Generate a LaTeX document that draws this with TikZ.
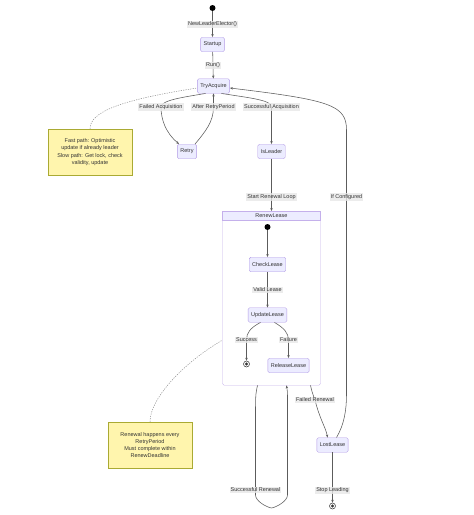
\documentclass[tikz,border=0pt]{standalone}
\usepackage{fontspec}
\setmainfont{Liberation Sans}
\usetikzlibrary{positioning, arrows.meta, calc}
\definecolor{primary}{HTML}{9370DB}
\definecolor{statebg}{HTML}{ECECFF}
\definecolor{linec}{HTML}{333333}
\definecolor{notebg}{HTML}{FFF5AD}
\definecolor{noteline}{HTML}{AAAA33}
\definecolor{lblbg}{HTML}{E8E8E8}
\tikzset{
  fsm state/.style={
    draw=primary!70,
    line width=0.4pt,
    fill=statebg,
    rounded corners=1.5pt,
    minimum height=14.5pt,
    inner xsep=3pt,
    font=\fontsize{5.5}{6.5}\selectfont,
    text=linec
  },
  fsm arrow/.style={
    -{Stealth[length=3pt,width=2.4pt]},
    line width=0.55pt,
    color=linec!80
  },
  edge lbl/.style={
    fill=lblbg, fill opacity=0.8, text opacity=1,
    inner sep=1pt, font=\fontsize{5.5}{6.5}\selectfont, text=linec
  },
  start dot/.style={circle, fill=black, minimum size=6pt, inner sep=0pt},
  stop dot/.style={
    circle, draw=linec, line width=0.5pt, fill=white,
    minimum size=6pt, inner sep=0pt,
    path picture={\fill[linec] (path picture bounding box.center) circle (1.6pt);}
  },
  note/.style={
    draw=noteline, line width=0.4pt, fill=notebg,
    minimum width=84pt, minimum height=46pt,
    align=center, font=\fontsize{5.5}{7.2}\selectfont, text=linec
  },
  note link/.style={dash pattern=on 1.2pt off 1.2pt, line width=0.5pt, color=linec!55}
}

\begin{document}
\begin{tikzpicture}[x=1pt, y=-1pt]
  \useasboundingbox[fill=white] (0,0) rectangle (474,515);

  % Composite state
  \node[draw=primary!55, line width=0.4pt, fill=white, rounded corners=1.5pt,
        minimum width=98pt, minimum height=174pt, inner sep=0pt, anchor=north] (renew) at (271.5,211) {};
  \node[draw=primary!55, line width=0.4pt, fill=statebg, minimum width=98pt, minimum height=9pt,
        inner sep=0pt, anchor=north, font=\fontsize{5.5}{6.5}\selectfont, text=linec] (renewhead) at (renew.north) {RenewLease};

  % States
  \node[start dot] (init) at (212.5,8) {};
  \node[fsm state] (startup) at (212.5,44.5) {Startup};
  \node[fsm state] (try) at (213.5,86) {TryAcquire};
  \node[fsm state] (retry) at (187,151.5) {Retry};
  \node[fsm state] (isleader) at (271.5,151.5) {IsLeader};
  \node[fsm state] (lost) at (332.5,445) {LostLease};
  \node[stop dot] (done) at (332.5,506) {};

  % Inside RenewLease
  \node[start dot] (rinit) at (267.5,227) {};
  \node[fsm state] (check) at (267.5,264.5) {CheckLease};
  \node[fsm state] (update) at (267.5,315) {UpdateLease};
  \node[stop dot] (rdone) at (246.5,364) {};
  \node[fsm state] (release) at (288.5,365.5) {ReleaseLease};

  % Notes
  \node[note] (note1) at (90,152) {Fast path: Optimistic\\update if already leader\\Slow path: Get lock, check\\validity, update};
  \node[note] (note2) at (150,445) {Renewal happens every\\RetryPeriod\\Must complete within\\RenewDeadline};
  \draw[note link] (note1.north) .. controls (90,112) and (120,100) .. ([yshift=-2pt]try.west);
  \draw[note link] (note2.north) .. controls (150,400) and (180,365) .. ([yshift=-42pt]renew.west);

  % Transitions
  \draw[fsm arrow] (init) -- node[edge lbl]{NewLeaderElector()} (startup);
  \draw[fsm arrow] (startup) -- node[edge lbl]{Run()} (try);
  \draw[fsm arrow] ([xshift=-8pt]try.south) .. controls (185,97) and (161,100) .. (161,107)
    node[edge lbl]{Failed Acquisition} .. controls (161,120) and (166,133) .. ([xshift=-8pt]retry.north);
  \draw[fsm arrow] ([xshift=8pt]retry.north) .. controls (205,132) and (213.5,122) .. (213.5,107)
    node[edge lbl]{After RetryPeriod} -- (try.south);
  \draw[fsm arrow] ([xshift=8pt]try.south) .. controls (250,98) and (271.5,100) .. (271.5,107)
    node[edge lbl]{Successful Acquisition} -- (isleader.north);
  \draw[fsm arrow] (isleader) -- node[edge lbl, pos=0.73]{Start Renewal Loop} (renew.north);
  \draw[fsm arrow] ([xshift=39pt]renew.south) .. controls (312,392) .. (315,400)
    node[edge lbl]{Failed Renewal} .. controls (320,420) and (326,428) .. ([xshift=-5pt]lost.north);
  \draw[fsm arrow] ([xshift=-14pt]renew.south) .. controls (255.5,395) .. (255.5,420) -- (255.5,490)
    node[edge lbl]{Successful Renewal} -- (255.5,495) .. controls (255.5,501) and (266,507) .. (271.5,508)
    .. controls (277,507) and (287.5,501) .. (287.5,495) -- (287.5,400) .. controls (287.5,392) .. ([xshift=15pt]renew.south);
  \draw[fsm arrow] ([xshift=4pt]lost.north) .. controls (344,425) and (346.5,410) .. (346.5,395) -- (346.5,197)
    node[edge lbl]{If Configured} -- (346.5,130) .. controls (346.5,105) and (330,100) .. ([yshift=-2pt]try.east);
  \draw[fsm arrow] (lost) -- node[edge lbl, pos=0.75]{Stop Leading} (done);

  % Transitions inside RenewLease
  \draw[fsm arrow] (rinit) -- (check);
  \draw[fsm arrow] (check) -- node[edge lbl]{Valid Lease} (update);
  \draw[fsm arrow] ([xshift=-7pt]update.south) .. controls (250,328) and (246.5,333) .. (246.5,340)
    node[edge lbl]{Success} -- (rdone);
  \draw[fsm arrow] ([xshift=7pt]update.south) .. controls (284,328) and (288.5,333) .. (288.5,340)
    node[edge lbl]{Failure} -- (release.north);
\end{tikzpicture}
\end{document}
